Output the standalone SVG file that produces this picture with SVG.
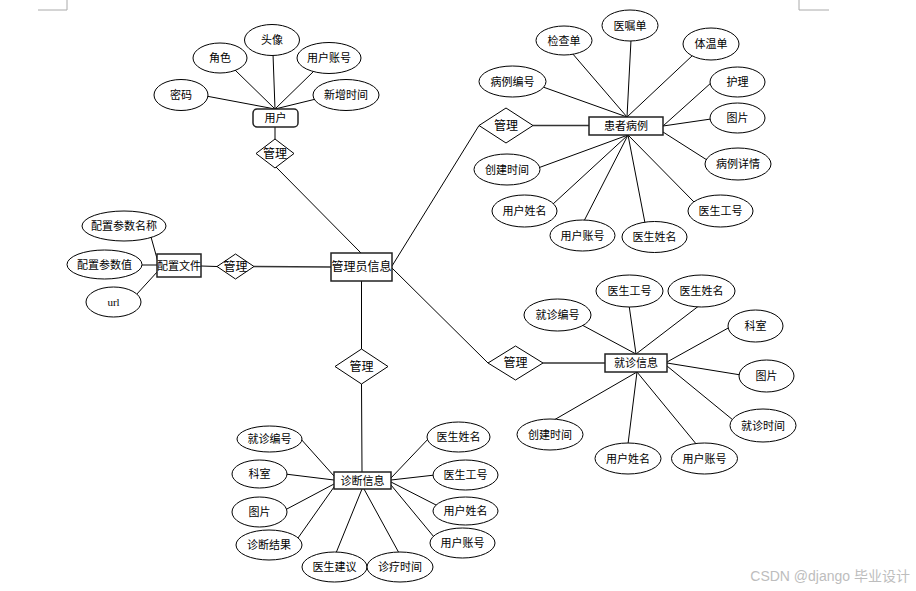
<svg xmlns="http://www.w3.org/2000/svg" width="916" height="591" viewBox="0 0 916 591">
<style>
text{font-family:"Liberation Sans","Noto Sans CJK SC",sans-serif;font-size:11px;fill:#000;text-anchor:middle;dominant-baseline:central}
.dia text{font-size:12px}
.serif{font-family:"Liberation Serif","Noto Sans CJK SC",serif}
ellipse{fill:#fff;stroke:#000;stroke-width:1}
.ent rect{fill:#fff;stroke:#222;stroke-width:1.5}
polygon{fill:#fff;stroke:#000;stroke-width:1}
#connectors line{stroke:#000;stroke-width:1}
#connectors line.main{stroke:#333;stroke-width:1.5}
.mark{fill:none;stroke:#aaa;stroke-width:1}
.wm{font-size:14px;fill:#bdbdbd;text-anchor:end;dominant-baseline:alphabetic}
</style>
<rect width="916" height="591" fill="#fff"/>
<polyline class="mark" points="38,10 67,10 67,0"/>
<polyline class="mark" points="799,0 799,10 829,10"/>

<g id="connectors">
  <!-- 用户 -->
  <line x1="206" y1="96" x2="275" y2="109"/>
  <line x1="235" y1="70" x2="275" y2="109"/>
  <line x1="273" y1="54" x2="275" y2="109"/>
  <line x1="314" y1="71" x2="275" y2="109"/>
  <line x1="316" y1="99" x2="275" y2="109"/>
  <line x1="275" y1="127" x2="275" y2="139"/>
  <line x1="276" y1="167" x2="361" y2="253"/>
  <!-- 配置文件 -->
  <line x1="151" y1="237" x2="158" y2="262"/>
  <line x1="141" y1="265" x2="157" y2="265"/>
  <line x1="136" y1="295" x2="158" y2="271"/>
  <line x1="201" y1="266" x2="217" y2="266.5"/>
  <line class="main" x1="254" y1="266.5" x2="331" y2="267"/>
  <!-- 患者病例 -->
  <line x1="392" y1="266" x2="479" y2="125.5"/>
  <line class="main" x1="533" y1="125.5" x2="589" y2="125.5"/>
  <line x1="572" y1="53" x2="627" y2="117"/>
  <line x1="631" y1="40" x2="627" y2="117"/>
  <line x1="693" y1="55" x2="627" y2="117"/>
  <line x1="543" y1="87" x2="627" y2="117"/>
  <line x1="712" y1="82" x2="663" y2="126"/>
  <line x1="711" y1="119" x2="663" y2="126"/>
  <line x1="707" y1="160" x2="663" y2="132"/>
  <line x1="538" y1="168" x2="628" y2="135"/>
  <line x1="553" y1="204" x2="628" y2="135"/>
  <line x1="584" y1="221" x2="628" y2="135"/>
  <line x1="645" y1="223" x2="628" y2="135"/>
  <line x1="694" y1="202" x2="628" y2="135"/>
  <!-- 就诊信息 -->
  <line x1="392" y1="268" x2="488" y2="363"/>
  <line class="main" x1="543" y1="363" x2="605" y2="363"/>
  <line x1="629" y1="305" x2="636" y2="354"/>
  <line x1="700" y1="305" x2="636" y2="354"/>
  <line x1="582" y1="325" x2="636" y2="354"/>
  <line x1="730" y1="327" x2="667" y2="362"/>
  <line x1="741" y1="375" x2="667" y2="363"/>
  <line x1="733" y1="420" x2="667" y2="366"/>
  <line x1="554" y1="420" x2="637" y2="372"/>
  <line x1="628" y1="444" x2="637" y2="372"/>
  <line x1="697" y1="445" x2="637" y2="372"/>
  <!-- 诊断信息 -->
  <line x1="361.5" y1="281" x2="361.5" y2="349"/>
  <line x1="361.5" y1="384" x2="362" y2="472"/>
  <line x1="300" y1="438" x2="334" y2="476"/>
  <line x1="285" y1="474" x2="334" y2="480"/>
  <line x1="285" y1="510" x2="334" y2="484"/>
  <line x1="298" y1="538" x2="334" y2="487"/>
  <line x1="336" y1="553" x2="362" y2="489"/>
  <line x1="399" y1="553" x2="364" y2="489"/>
  <line x1="430" y1="437" x2="391" y2="478"/>
  <line x1="435" y1="475" x2="391" y2="480"/>
  <line x1="438" y1="506" x2="391" y2="482"/>
  <line x1="434" y1="537" x2="391" y2="485"/>
</g>

<!-- 管理员信息 -->
<g id="admin" class="ent"><rect x="331" y="253" width="61" height="28"/><text x="361.5" y="267" style="font-size:12px">管理员信息</text></g>

<!-- 用户 -->
<g id="user" class="ent"><rect x="253" y="109" width="45" height="18" rx="4"/><text x="275.5" y="118">用户</text></g>
<g id="user-avatar"><ellipse cx="272" cy="40" rx="27.5" ry="15.5"/><text x="272" y="40">头像</text></g>
<g id="user-role"><ellipse cx="220" cy="58" rx="27" ry="15"/><text x="220" y="58">角色</text></g>
<g id="user-account"><ellipse cx="329" cy="58" rx="32" ry="15.5"/><text x="329" y="58">用户账号</text></g>
<g id="user-pwd"><ellipse cx="181" cy="95" rx="27" ry="15.5"/><text x="181" y="95">密码</text></g>
<g id="user-time"><ellipse cx="346" cy="95" rx="33" ry="15.5"/><text x="346" y="95">新增时间</text></g>
<g id="rel-user" class="dia"><polygon points="275,139 294,153.5 275,168 256,153.5"/><text x="275" y="153.5">管理</text></g>

<!-- 配置文件 -->
<g id="config" class="ent"><rect x="157" y="254" width="44" height="23"/><text x="179" y="265.5">配置文件</text></g>
<g id="config-name"><ellipse cx="124" cy="226" rx="42" ry="15"/><text x="124" y="226">配置参数名称</text></g>
<g id="config-value"><ellipse cx="104.5" cy="264.5" rx="37.5" ry="14.5"/><text x="104.5" y="264.5">配置参数值</text></g>
<g id="config-url"><ellipse cx="113.5" cy="302" rx="27.5" ry="15"/><text class="serif" x="113.5" y="302">url</text></g>
<g id="rel-config" class="dia"><polygon points="235.5,254 254,266.5 235.5,279 217,266.5"/><text x="235.5" y="266.5">管理</text></g>

<!-- 患者病例 -->
<g id="case" class="ent"><rect x="589" y="117" width="74" height="18"/><text x="626" y="126">患者病例</text></g>
<g id="rel-case" class="dia"><polygon points="506,108 533,125.5 506,143 479,125.5"/><text x="506" y="125.5">管理</text></g>
<g id="case-check"><ellipse cx="564" cy="40.5" rx="28" ry="14.5"/><text x="564" y="40.5">检查单</text></g>
<g id="case-order"><ellipse cx="630" cy="25.5" rx="28" ry="15.5"/><text x="630" y="25.5">医嘱单</text></g>
<g id="case-temp"><ellipse cx="711" cy="44" rx="28" ry="16"/><text x="711" y="44">体温单</text></g>
<g id="case-no"><ellipse cx="512.5" cy="81.5" rx="33.5" ry="15.5"/><text x="512.5" y="81.5">病例编号</text></g>
<g id="case-care"><ellipse cx="737.5" cy="82" rx="27.5" ry="15"/><text x="737.5" y="82">护理</text></g>
<g id="case-pic"><ellipse cx="737.5" cy="118" rx="27.5" ry="15"/><text x="737.5" y="118">图片</text></g>
<g id="case-detail"><ellipse cx="738" cy="164" rx="33" ry="16"/><text x="738" y="164">病例详情</text></g>
<g id="case-ctime"><ellipse cx="507" cy="169.5" rx="33" ry="15.5"/><text x="507" y="169.5">创建时间</text></g>
<g id="case-uname"><ellipse cx="524.5" cy="211" rx="32.5" ry="16"/><text x="524.5" y="211">用户姓名</text></g>
<g id="case-uacc"><ellipse cx="582.5" cy="235.5" rx="32.5" ry="15.5"/><text x="582.5" y="235.5">用户账号</text></g>
<g id="case-dname"><ellipse cx="654.5" cy="237" rx="32.5" ry="15.5"/><text x="654.5" y="237">医生姓名</text></g>
<g id="case-dno"><ellipse cx="720.5" cy="211" rx="32.5" ry="16"/><text x="720.5" y="211">医生工号</text></g>

<!-- 就诊信息 -->
<g id="visit" class="ent"><rect x="605" y="354" width="62" height="18"/><text x="636" y="363">就诊信息</text></g>
<g id="rel-visit" class="dia"><polygon points="515.5,346 543,363 515.5,380 488,363"/><text x="515.5" y="363">管理</text></g>
<g id="visit-dno"><ellipse cx="629.5" cy="291" rx="33.5" ry="16"/><text x="629.5" y="291">医生工号</text></g>
<g id="visit-dname"><ellipse cx="701.5" cy="291" rx="33.5" ry="16"/><text x="701.5" y="291">医生姓名</text></g>
<g id="visit-no"><ellipse cx="557.5" cy="315" rx="33.5" ry="16"/><text x="557.5" y="315">就诊编号</text></g>
<g id="visit-dept"><ellipse cx="755.5" cy="326" rx="27.5" ry="16"/><text x="755.5" y="326">科室</text></g>
<g id="visit-pic"><ellipse cx="766.5" cy="376" rx="27.5" ry="16"/><text x="766.5" y="376">图片</text></g>
<g id="visit-time"><ellipse cx="763" cy="425.5" rx="33" ry="16.5"/><text x="763" y="425.5">就诊时间</text></g>
<g id="visit-ctime"><ellipse cx="550" cy="434.5" rx="33" ry="15.5"/><text x="550" y="434.5">创建时间</text></g>
<g id="visit-uname"><ellipse cx="628" cy="458.5" rx="33" ry="15.5"/><text x="628" y="458.5">用户姓名</text></g>
<g id="visit-uacc"><ellipse cx="704.5" cy="458.5" rx="33" ry="15.5"/><text x="704.5" y="458.5">用户账号</text></g>

<!-- 诊断信息 -->
<g id="rel-diag" class="dia"><polygon points="361.5,349 388,366.5 361.5,384 335,366.5"/><text x="361.5" y="366.5">管理</text></g>
<g id="diag" class="ent"><rect x="334" y="472" width="57" height="17"/><text x="362.5" y="480.5">诊断信息</text></g>
<g id="diag-no"><ellipse cx="269.5" cy="439" rx="32.5" ry="13"/><text x="269.5" y="439">就诊编号</text></g>
<g id="diag-dept"><ellipse cx="259.5" cy="474" rx="27.5" ry="14"/><text x="259.5" y="474">科室</text></g>
<g id="diag-pic"><ellipse cx="259.5" cy="512" rx="27.5" ry="15"/><text x="259.5" y="512">图片</text></g>
<g id="diag-result"><ellipse cx="269" cy="545" rx="33" ry="15"/><text x="269" y="545">诊断结果</text></g>
<g id="diag-advice"><ellipse cx="334.5" cy="567" rx="32.5" ry="15"/><text x="334.5" y="567">医生建议</text></g>
<g id="diag-time"><ellipse cx="400" cy="567" rx="33" ry="15"/><text x="400" y="567">诊疗时间</text></g>
<g id="diag-dname"><ellipse cx="458.5" cy="437" rx="31.5" ry="15"/><text x="458.5" y="437">医生姓名</text></g>
<g id="diag-dno"><ellipse cx="465.5" cy="475" rx="32.5" ry="15"/><text x="465.5" y="475">医生工号</text></g>
<g id="diag-uname"><ellipse cx="465.5" cy="511" rx="32.5" ry="14"/><text x="465.5" y="511">用户姓名</text></g>
<g id="diag-uacc"><ellipse cx="462.5" cy="543" rx="32.5" ry="15"/><text x="462.5" y="543">用户账号</text></g>

<text class="wm" x="910" y="581">CSDN @django  毕业设计</text>
</svg>
